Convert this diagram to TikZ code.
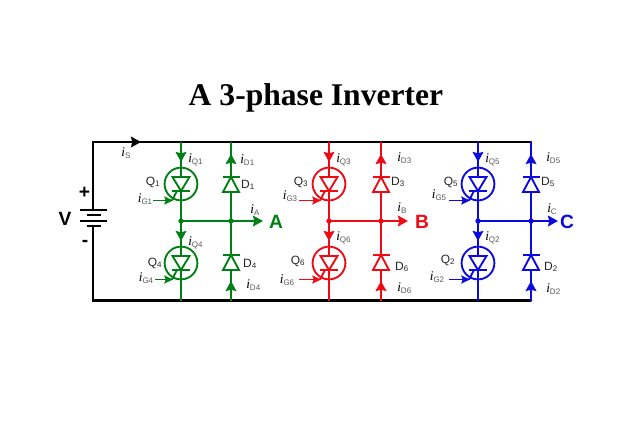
\documentclass[tikz,border=0pt]{standalone}
\usepackage{fontspec}
\setmainfont{Liberation Sans}
\newfontfamily\titlefont{Liberation Serif}
\usetikzlibrary{calc, arrows.meta}

\newcommand{\cur}[1]{{\titlefont\itshape\normalsize i}\textcolor{black!65}{\fontsize{6}{7}\selectfont\raisebox{-2pt}{#1}}}

\definecolor{legA}{RGB}{0,128,20}
\definecolor{legB}{RGB}{240,10,20}
\definecolor{legC}{RGB}{10,10,225}

\begin{document}
\begin{tikzpicture}[
    x=0.75pt, y=-0.75pt, % Work in pixels of the image, y downwards
    >={Stealth[length=7.5pt,width=8pt,inset=1pt]},
    rail/.style={line width=1.9pt, black},
    wire/.style={line width=1.7pt},
    device/.style={line width=1.4pt},
    gatearrow/.style={line width=1.2pt, -{Stealth[length=6.5pt,width=6pt,inset=1pt]}},
    tag/.style={font=\small, text=black!85, inner sep=0pt},
    curtag/.style={inner sep=0pt},
    phase/.style={font=\bfseries\Large, inner sep=0pt}
  ]
  \useasboundingbox (0,0) rectangle (638,432);

  % --- Title ---
  \node[inner sep=0pt] (title) at (316,98) {\titlefont\bfseries\fontsize{23.7}{26}\selectfont A 3-phase Inverter};

  % --- Coordinates ---
  \coordinate (TL) at (93,142);
  \coordinate (TR) at (531,142);
  \coordinate (BL) at (93,300.5);
  \coordinate (BR) at (531,300.5);
  \coordinate (batT) at (93,210);
  \coordinate (batB) at (93,226);

  % --- Rails and battery ---
  \draw[rail, line cap=round] (batT) -- (TL) -- (TR);
  \draw[rail, line cap=round] (batB) -- (BL) -- (BR);
  \draw[rail, ->] (TL) -- (141,142);
  \draw[line width=1.6pt] (80,210) -- (107,210);
  \draw[line width=1.6pt] (87,215) -- (101,215);
  \draw[line width=1.6pt] (80,221) -- (107,221);
  \draw[line width=1.6pt] (87,226) -- (101,226);
  \node[phase] (plus) at (84.5,193) {+};
  \node[phase] (minus) at (85,243) {-};
  \node[phase] (vsrc) at (65,219) {V};
  \node[curtag] (iS) at (126,153) {\cur{S}};

  % --- Legs: switch line, diode line and output line ---
  \foreach \qx/\dx/\ox/\col/\name/\lx/\cx/\cy/\ph in {
      181/231/263/legA/A/276/255/210/A,
      329/381/408/legB/B/422/402/208/B,
      478/531/558/legC/C/567/552/209/C} {
    \draw[wire, \col] (\qx,142) -- (\qx,300.5);
    \draw[wire, \col] (\dx,142) -- (\dx,300.5);
    \draw[wire, \col, ->] (\qx,221) -- (\ox,221);
    \fill[\col] (\qx,221) circle (2pt);
    \fill[\col] (\dx,221) circle (2pt);
    \node[phase, text=\col] (out\name) at (\lx,222) {\ph};
    \node[curtag] (i\name) at (\cx,\cy) {\cur{\ph}};
  }

  % --- Switches: x, y, number, colour, offsets of the labels ---
  \foreach \qx/\qy/\num/\col/\qdx/\qdy/\gdx/\gdy/\adx/\idy in {
      181/184/1/legA/-28/-2/-36/15/-28/-24,
      181/263/4/legA/-26/0/-35/15/-26/-20,
      329/184/3/legB/-28/-2/-39/12/-30/-24,
      329/263/6/legB/-31/-2/-42/17/-30/-25,
      478/184/5/legC/-27/-2/-39/11/-29/-24,
      478/263/2/legC/-30/-3/-41/14/-29/-25} {
    \draw[device, \col] (\qx,\qy) circle (12.3pt);
    \draw[device, \col, fill=white] (\qx-8.5,\qy-7) -- (\qx+8.5,\qy-7) -- (\qx,\qy+7) -- cycle;
    \draw[device, \col] (\qx-9,\qy+7) -- (\qx+9,\qy+7);
    \draw[device, \col] (\qx-4,\qy+7) -- (\qx-9,\qy+16.5);
    \draw[gatearrow, \col] (\qx+\adx,\qy+16.5) -- (\qx-8,\qy+16.5);
    \draw[wire, \col, ->] (\qx,\qy-33) -- (\qx,\qy-22);
    \node[tag] (Q\num) at (\qx+\qdx,\qy+\qdy) {Q\textsubscript{\num}};
    \node[curtag] (iG\num) at (\qx+\gdx,\qy+\gdy) {\cur{G\num}};
    \node[curtag, anchor=west] (iQ\num) at (\qx+7,\qy+\idy) {\cur{Q\num}};
  }

  % --- Diodes: x, bar, number, arrow ends, label positions ---
  \foreach \dx/\by/\num/\col/\from/\to/\lx/\ly/\ix/\iy in {
      231/177/1/legA/165/154/248/185/240/160,
      231/255/4/legA/292/281/250/264/246/285,
      381/177/3/legB/165/154/398/182/397/158,
      381/255/6/legB/292/281/402/267/397/288,
      531/177/5/legC/165/154/548/182/546/158,
      531/255/2/legC/292/281/551/267/546/289} {
    \draw[device, \col, fill=white] (\dx-8,\by+15) -- (\dx+8,\by+15) -- (\dx,\by) -- cycle;
    \draw[device, \col] (\dx-8.5,\by) -- (\dx+8.5,\by);
    \draw[wire, \col, ->] (\dx,\from) -- (\dx,\to);
    \node[tag] (D\num) at (\lx,\ly) {D\textsubscript{\num}};
    \node[curtag, anchor=west] (iD\num) at (\ix,\iy) {\cur{D\num}};
  }
\end{tikzpicture}
\end{document}
